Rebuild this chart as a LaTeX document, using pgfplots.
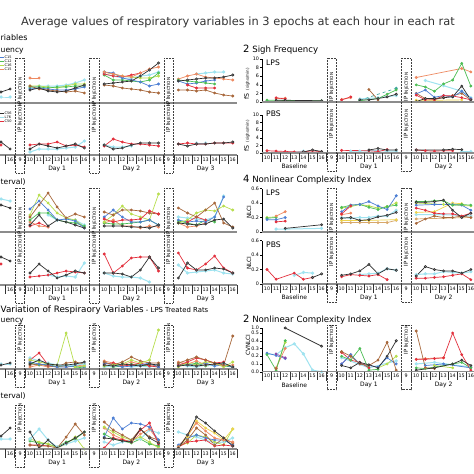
\documentclass[border=0pt]{standalone}
\usepackage{pgfplots}
\pgfplotsset{compat=1.18}
\usepackage{fontspec}
\setmainfont{DejaVu Sans}

\definecolor{cBlk}{HTML}{2E2E2E}
\definecolor{cRed}{HTML}{E3303D}
\definecolor{cCya}{HTML}{9FE3F0}
\definecolor{cGrn}{HTML}{4DBE55}
\definecolor{cLim}{HTML}{B8DE4E}
\definecolor{cOra}{HTML}{EE8A62}
\definecolor{cBrn}{HTML}{A8683C}
\definecolor{cBlu}{HTML}{4D7FD4}
\definecolor{cYel}{HTML}{EDD34C}
\definecolor{cTan}{HTML}{D8A86A}
\definecolor{cPur}{HTML}{8B44A8}
\definecolor{cTea}{HTML}{3FA7A0}
\definecolor{axgray}{HTML}{8C8C8C}

\pgfplotsset{
  dd/.style={x filter/.expression={x-10+#1}},
  ser/.style={line width=0.7pt, mark=*, mark size=1.05pt, mark options={solid}},
  Blk/.style={ser, color=cBlk, mark options={solid, fill=white}},
  Red/.style={ser, color=cRed},
  Cya/.style={ser, color=cCya, line width=1pt},
  Grn/.style={ser, color=cGrn},
  Lim/.style={ser, color=cLim},
  Ora/.style={ser, color=cOra},
  Brn/.style={ser, color=cBrn},
  Blu/.style={ser, color=cBlu},
  Yel/.style={ser, color=cYel},
  Tan/.style={ser, color=cTan},
  Pur/.style={ser, color=cPur},
  Tea/.style={ser, color=cTea, dashed},
  lpanel/.style={scale only axis, hide axis, clip=false, anchor=south west,
    x=9.05pt, y=1pt, xmin=-3.315, xmax=22.9, ymin=0},
  rpanel/.style={scale only axis, clip=false, anchor=south west,
    x=9.1pt, xmin=-0.55, xmax=22.75, ymin=0,
    axis x line=none, axis y line=left,
    axis line style={-, black, line width=0.5pt},
    tick align=outside, major tick length=2pt,
    ytick style={black, line width=0.4pt},
    yticklabel style={font=\fontsize{4.8}{5}\selectfont, inner sep=0.8pt},
    /pgf/number format/assume math mode=true},
}

\tikzset{
  hr/.style={font=\fontsize{4.8}{5}\selectfont, inner sep=0pt},
  dl/.style={font=\fontsize{6}{6}\selectfont, inner sep=0pt},
  sep/.style={line width=0.45pt, black!80},
  injb/.style={densely dotted, line width=0.5pt, black!75},
  injt/.style={rotate=90, inner sep=0pt},
  axl/.style={line width=1.2pt, axgray},
  hd/.style={anchor=west, inner sep=0pt, font=\fontsize{8.6}{9}\selectfont},
  lh/.style={anchor=west, inner sep=0pt, font=\fontsize{7.6}{8}\selectfont},
}

\newcommand{\injtext}{{\fontsize{5.4}{5}\selectfont IP I}{\fontsize{4.2}{4}\selectfont NJECTION}}

% hour cells of one recording day: x0, unit, axis y, offset, day name
\newcommand{\hours}[5]{%
  \begin{scope}[shift={(#1pt,-#3pt)}, x=#2pt, y=-1pt]
    \foreach \h in {10,...,16} \node[hr] at (#4+\h-10,4.5) {\h};
    \foreach \s in {0.5,1.5,2.5,3.5,4.5,5.5} \draw[sep] (#4+\s,0) -- (#4+\s,8.5);
    \draw[sep] (#4-0.5,0) -- (#4-0.5,9);
    \draw[sep] (#4+6.5,0) -- (#4+6.5,9);
    \node[dl] at (#4+3,13.5) {#5};
  \end{scope}}

% last hour cell of the baseline day at the left edge: x0, unit, axis y
\newcommand{\hourtail}[3]{%
  \begin{scope}[shift={(#1pt,-#3pt)}, x=#2pt, y=-1pt]
    \node[hr] at (-8.2+6,4.5) {16};
    \draw[sep] (-8.2+5.5,0) -- (-8.2+5.5,8.5);
    \draw[sep] (-8.2+6.5,0) -- (-8.2+6.5,9);
  \end{scope}}

% injection column: x0, unit, centre, top, axis y, label positions
\newcommand{\inj}[6]{%
  \begin{scope}[shift={(#1pt,0pt)}, x=#2pt, y=-1pt]
    \draw[injb] (#3-0.5,#4) rectangle (#3+0.5,#5+18);
    \node[hr] at (#3,#5+4.5) {9};
    \foreach \ly in {#6} \node[injt] at (#3,\ly) {\injtext};
  \end{scope}}

\begin{document}
\begin{tikzpicture}
\useasboundingbox (0pt,0pt) rectangle (474pt,-474pt);
\clip (0pt,0pt) rectangle (474pt,-474pt);
\fill[white] (0pt,0pt) rectangle (474pt,-474pt);

\node[font=\fontsize{11.4}{13}\selectfont, black!80] at (238pt,-22pt)
  {Average values of respiratory variables in 3 epochs at each hour in each rat};

% ---------------- left column headings ----------------
\node[lh, font=\fontsize{8}{8}\selectfont] at (0.5pt,-38pt) {riables};
\node[lh] at (0.5pt,-51pt) {uency};
\node[lh] at (0.5pt,-182pt) {terval)};
\node[anchor=west, inner sep=0pt] at (0.5pt,-310pt)
  {{\fontsize{8.8}{9}\selectfont Variation of Respiraory Variables}{\fontsize{6.9}{7}\selectfont\ - LPS Treated Rats}};
\node[lh] at (0.5pt,-321pt) {uency};
\node[lh] at (0.5pt,-396pt) {terval)};

% cropped legends
\foreach \yy/\cc/\tt in {57/cBlu/C15, 61/cGrn/C12, 65/cLim/C16, 69/cOra/C15}
  {\draw[\cc, line width=0.7pt] (0pt,-\yy pt) -- (4pt,-\yy pt);
   \node[anchor=west, inner sep=0pt, font=\fontsize{3.5}{4}\selectfont] at (4.5pt,-\yy pt) {\tt};}
\foreach \yy/\cc/\tt in {113/cBlk/C56, 117/cCya/L76, 121/cRed/C50}
  {\draw[\cc, line width=0.7pt] (0pt,-\yy pt) -- (4pt,-\yy pt);
   \node[anchor=west, inner sep=0pt, font=\fontsize{3.5}{4}\selectfont] at (4.5pt,-\yy pt) {\tt};}

% ---------------- L1 frequency, LPS ----------------
\begin{axis}[lpanel, at={(0pt,-103pt)}, ymax=45]
\addplot[Blk, dd=-8.2] coordinates {(14,10)(15,11)(16,14)};
\addplot[Cya, dd=-8.2] coordinates {(14,6)(15,6)(16,6)};
\addplot[Ora, dd=0] coordinates {(10,25)(11,25)};
\addplot[Cya, dd=0] coordinates {(10,15)(11,17)(12,17)(13,17)(14,18)(15,20)(16,23)};
\addplot[Lim, dd=0] coordinates {(10,17)(11,17)(12,16)(13,15)(14,17)(15,19)(16,19)};
\addplot[Grn, dd=0] coordinates {(10,16)(11,16)(12,15)(13,16)(14,16)(15,17)(16,17)};
\addplot[Blu, dd=0] coordinates {(10,14)(11,15)(12,14)(13,13)(14,13)(15,14)(16,16)};
\addplot[Brn, dd=0] coordinates {(10,17)(11,14)(12,13)(13,12)(14,11)(15,12)(16,10)};
\addplot[Blk, dd=0] coordinates {(10,13)(11,15)(12,12)(13,11)(14,12)(15,15)(16,18)};
\addplot[Cya, dd=8.2] coordinates {(10,29)(11,27)(12,25)(13,25)(14,27)(15,28)(16,31)};
\addplot[Lim, dd=8.2] coordinates {(10,31)(11,29)(12,27)(13,26)(14,25)(15,25)(16,27)};
\addplot[Grn, dd=8.2] coordinates {(10,28)(11,23)(12,23)(13,22)(14,21)(15,23)(16,30)};
\addplot[Red, dd=8.2] coordinates {(10,29)(11,27)(12,26)(13,28)(14,30)};
\addplot[Blu, dd=8.2] coordinates {(10,31)(11,30)(12,25)(13,23)(14,21)(15,17)(16,19)};
\addplot[Ora, dd=8.2] coordinates {(10,31)(11,29)(12,27)(13,26)(14,30)(15,34)(16,36)};
\addplot[Brn, dd=8.2] coordinates {(10,18)(11,17)(12,15)(13,14)(14,13)(15,11)(16,10)};
\addplot[Blk, dd=8.2] coordinates {(10,19)(11,20)(12,21)(13,22)(14,27)(15,33)(16,40)};
\addplot[Cya, dd=16.4] coordinates {(12,29)(13,30)(14,31)(15,31)};
\addplot[Ora, dd=16.4] coordinates {(10,24)(11,27)(12,29)(13,26)(14,25)(15,24)(16,23)};
\addplot[Blu, dd=16.4] coordinates {(10,22)(11,19)(12,20)(13,22)(14,23)};
\addplot[Grn, dd=16.4] coordinates {(10,23)(11,22)(12,21)(13,20)(14,19)};
\addplot[Red, dd=16.4] coordinates {(11,18)(12,15)(13,15)(14,15)};
\addplot[Brn, dd=16.4] coordinates {(10,13)(11,13)(12,12)(13,13)(14,10)(15,8)(16,7)};
\addplot[Blk, dd=16.4] coordinates {(10,22)(11,23)(12,24)(13,25)(14,25)(15,26)(16,28)};
\end{axis}

% ---------------- L1 frequency, PBS ----------------
\begin{axis}[lpanel, at={(0pt,-155pt)}, ymax=50]
\addplot[Red, dd=-8.2] coordinates {(14,12)(15,10)};
\addplot[Blk, dd=-8.2] coordinates {(14,15)(15,13)(16,6)};
\addplot[Cya, dd=0] coordinates {(10,3)(11,6)(12,6)(13,6)(14,7)(15,8)(16,14)};
\addplot[Red, dd=0] coordinates {(10,10)(11,11)(12,11)(13,13)(14,9)(15,10)(16,8)};
\addplot[Blk, dd=0] coordinates {(10,6)(11,11)(12,9)(13,7)(14,9)(15,11)(16,7)};
\addplot[Cya, dd=8.2] coordinates {(10,10)(11,8)(12,8)(13,9)};
\addplot[Red, dd=8.2] coordinates {(10,9)(11,16)(12,13)(13,11)(14,11)(15,10)(16,9)};
\addplot[Blk, dd=8.2] coordinates {(10,10)(11,6)(12,7)(13,10)(14,12)(15,12)(16,12)};
\addplot[Cya, dd=16.4] coordinates {(12,12)(13,12)};
\addplot[Red, dd=16.4] coordinates {(10,11)(11,12)(12,11)(13,11)(14,12)(15,12)(16,12)};
\addplot[Blk, dd=16.4] coordinates {(10,11)(11,9)(12,11)(13,11)(14,12)(15,12)(16,13)};
\end{axis}

\draw[axl] (0pt,-103pt) -- (237pt,-103pt);
\draw[axl] (0pt,-155pt) -- (237pt,-155pt);
\hourtail{30}{9.05}{155}
\hours{30}{9.05}{155}{0}{Day 1}
\hours{30}{9.05}{155}{8.2}{Day 2}
\hours{30}{9.05}{155}{16.4}{Day 3}
\inj{30}{9.05}{-1.1}{58}{155}{92,118}
\inj{30}{9.05}{7.1}{58}{155}{92,118}
\inj{30}{9.05}{15.3}{58}{155}{92,118}

% ---------------- L2 interval, LPS ----------------
\begin{axis}[lpanel, at={(0pt,-232pt)}, ymax=44]
\addplot[Cya, dd=-8.2] coordinates {(14,34)(15,33)(16,31)};
\addplot[Blk, dd=-8.2] coordinates {(14,29)(15,27)(16,24)};
\addplot[Cya, dd=0] coordinates {(12,17)(13,12)(14,13)(15,12)(16,7)};
\addplot[Red, dd=0] coordinates {(10,6)(11,9)(12,5)};
\addplot[Ora, dd=0] coordinates {(10,10)(11,6)(12,5)};
\addplot[Lim, dd=0] coordinates {(10,17)(11,37)(12,29)(13,19)(14,14)(15,12)(16,5)};
\addplot[Grn, dd=0] coordinates {(10,12)(11,19)(12,19)(13,12)(14,10)(15,9)(16,6)};
\addplot[Blu, dd=0] coordinates {(10,23)(11,31)(12,22)(13,12)(14,13)(15,11)(16,4)};
\addplot[Brn, dd=0] coordinates {(10,15)(11,27)(12,39)(13,25)(14,14)(15,18)(16,15)};
\addplot[Blk, dd=0] coordinates {(10,7)(11,17)(12,6)(13,12)(14,10)(15,7)(16,4)};
\addplot[Ora, dd=8.2] coordinates {(10,9)(11,12)(12,6)(13,6)(14,4)(15,6)(16,5)};
\addplot[Grn, dd=8.2] coordinates {(10,9)(11,8)(12,8)(13,9)(14,10)(15,12)(16,7)};
\addplot[Lim, dd=8.2] coordinates {(10,10)(11,17)(12,26)(13,18)(14,15)(15,12)(16,38)};
\addplot[Blu, dd=8.2] coordinates {(10,15)(11,22)(12,15)(13,10)(14,10)(15,12)(16,7)};
\addplot[Brn, dd=8.2] coordinates {(10,20)(11,17)(12,22)(13,22)(14,21)(15,19)(16,18)};
\addplot[Red, dd=8.2] coordinates {(10,13)(11,10)(12,12)(13,12)(14,13)(15,21)(16,18)};
\addplot[Blk, dd=8.2] coordinates {(10,6)(11,6)(12,6)(13,5)(14,5)(15,4)(16,7)};
\addplot[Ora, dd=16.4] coordinates {(10,9)(11,5)(12,6)(13,9)};
\addplot[Grn, dd=16.4] coordinates {(10,11)(11,9)(12,7)(13,12)(14,10)};
\addplot[Cya, dd=16.4] coordinates {(10,15)(11,14)(12,13)(13,12)(14,15)(15,36)};
\addplot[Blu, dd=16.4] coordinates {(10,12)(11,10)(12,11)(13,10)(14,15)(15,35)};
\addplot[Lim, dd=16.4] coordinates {(10,9)(11,12)(12,19)(13,22)(14,21)(15,26)(16,22)};
\addplot[Red, dd=16.4] coordinates {(11,10)(12,15)(13,12)};
\addplot[Brn, dd=16.4] coordinates {(10,24)(11,19)(12,15)(13,22)(14,29)(15,9)(16,5)};
\addplot[Blk, dd=16.4] coordinates {(10,9)(11,8)(12,7)(13,8)(14,12)(15,13)(16,4)};
\end{axis}

% ---------------- L2 interval, PBS ----------------
\begin{axis}[lpanel, at={(0pt,-285pt)}, ymax=49]
\addplot[Red, dd=-8.2] coordinates {(14,23)(15,21)};
\addplot[Blk, dd=-8.2] coordinates {(14,30)(15,28)(16,24)};
\addplot[Cya, dd=0] coordinates {(12,10)(13,8)(14,9)(15,8)(16,22)};
\addplot[Red, dd=0] coordinates {(10,8)(11,9)(12,10)(13,12)(14,14)(15,13)(16,12)};
\addplot[Blk, dd=0] coordinates {(10,12)(11,21)(12,14)(13,7)(14,10)(15,14)(16,12)};
\addplot[Cya, dd=8.2] coordinates {(10,12)(11,9)(12,8)(13,8)(14,7)(15,3)};
\addplot[Red, dd=8.2] coordinates {(10,31)(11,12)(12,19)(13,27)(14,28)(15,28)(16,14)};
\addplot[Blk, dd=8.2] coordinates {(10,12)(11,12)(12,11)(13,8)(14,15)(15,28)(16,17)};
\addplot[Cya, dd=16.4] coordinates {(10,20)(11,12)(12,13)(13,14)(14,15)(15,12)(16,11)};
\addplot[Red, dd=16.4] coordinates {(10,32)(11,17)(12,15)(13,21)(14,29)(15,17)(16,12)};
\addplot[Blk, dd=16.4] coordinates {(10,7)(11,22)(12,15)(13,15)(14,17)(15,16)(16,12)};
\end{axis}

\draw[axl] (0pt,-232pt) -- (237pt,-232pt);
\draw[axl] (0pt,-285pt) -- (237pt,-285pt);
\hourtail{30}{9.05}{285}
\hours{30}{9.05}{285}{0}{Day 1}
\hours{30}{9.05}{285}{8.2}{Day 2}
\hours{30}{9.05}{285}{16.4}{Day 3}
\inj{30}{9.05}{-1.1}{188}{285}{222,250}
\inj{30}{9.05}{7.1}{188}{285}{222,250}
\inj{30}{9.05}{15.3}{188}{285}{222,250}

% ---------------- L3 variation of frequency ----------------
\begin{axis}[lpanel, at={(0pt,-369pt)}, ymax=44]
\addplot[Cya, dd=-8.2] coordinates {(14,5)(15,5)(16,5)};
\addplot[Blk, dd=-8.2] coordinates {(14,3)(15,4)(16,6)};
\addplot[Ora, dd=0] coordinates {(10,2)(11,4)(12,2)(13,3)(14,2)(15,3)(16,4)};
\addplot[Grn, dd=0] coordinates {(10,6)(11,4)(12,5)(13,2)(14,4)(15,2)(16,1)};
\addplot[Brn, dd=0] coordinates {(10,4)(11,5)(12,3)(13,2)(14,6)(15,7)(16,5)};
\addplot[Cya, dd=0] coordinates {(10,11)(11,8)(12,6)(13,4)(14,3)(15,4)(16,5)};
\addplot[Blu, dd=0] coordinates {(10,7)(11,5)(12,4)(13,2)(14,2)(15,3)(16,2)};
\addplot[Red, dd=0] coordinates {(10,9)(11,16)(12,4)};
\addplot[Lim, dd=0] coordinates {(10,9)(11,7)(12,5)(13,4)(14,36)(15,2)(16,3)};
\addplot[Blk, dd=0] coordinates {(10,5)(11,9)(12,5)(13,4)(14,4)(15,5)(16,7)};
\addplot[Grn, dd=8.2] coordinates {(10,3)(11,2)(12,3)(13,5)(14,4)(15,3)(16,2)};
\addplot[Cya, dd=8.2] coordinates {(10,2)(11,3)(12,4)(13,2)(14,3)(15,2)(16,5)};
\addplot[Ora, dd=8.2] coordinates {(10,8)(11,6)(12,4)(13,7)(14,5)(15,4)(16,3)};
\addplot[Red, dd=8.2] coordinates {(10,5)(11,6)(12,3)(13,4)(14,6)(15,3)(16,2)};
\addplot[Blu, dd=8.2] coordinates {(10,6)(11,4)(12,2)(13,3)(14,4)(15,6)(16,2)};
\addplot[Brn, dd=8.2] coordinates {(10,7)(11,4)(12,7)(13,12)(14,8)(15,6)(16,6)};
\addplot[Lim, dd=8.2] coordinates {(10,3)(11,4)(12,5)(13,9)(14,6)(15,9)(16,39)};
\addplot[Blk, dd=8.2] coordinates {(10,4)(11,3)(12,5)(13,4)(14,3)(15,5)(16,4)};
\addplot[Grn, dd=16.4] coordinates {(10,5)(11,4)(12,6)(13,3)(14,4)(15,3)(16,2)};
\addplot[Cya, dd=16.4] coordinates {(10,4)(11,3)(12,2)(13,4)(14,3)(15,5)(16,3)};
\addplot[Blu, dd=16.4] coordinates {(10,3)(11,5)(12,4)(13,6)(14,3)(15,4)(16,2)};
\addplot[Ora, dd=16.4] coordinates {(10,7)(11,5)(12,8)(13,4)(14,5)(15,3)(16,4)};
\addplot[Lim, dd=16.4] coordinates {(10,2)(11,6)(12,4)(13,7)(14,6)(15,2)(16,7)};
\addplot[Red, dd=16.4] coordinates {(10,4)(11,7)(12,11)(13,9)(14,6)(15,7)};
\addplot[Brn, dd=16.4] coordinates {(10,6)(11,9)(12,12)(13,9)(14,6)(15,4)(16,33)};
\addplot[Blk, dd=16.4] coordinates {(10,3)(11,4)(12,3)(13,4)(14,5)(15,6)(16,2)};
\end{axis}

\draw[axl] (0pt,-369pt) -- (237pt,-369pt);
\hourtail{30}{9.05}{369}
\hours{30}{9.05}{369}{0}{Day 1}
\hours{30}{9.05}{369}{8.2}{Day 2}
\hours{30}{9.05}{369}{16.4}{Day 3}
\inj{30}{9.05}{-1.1}{325}{369}{338}
\inj{30}{9.05}{7.1}{325}{369}{338}
\inj{30}{9.05}{15.3}{325}{369}{338}

% ---------------- L4 variation of interval ----------------
\begin{axis}[lpanel, at={(0pt,-449pt)}, ymax=44]
\addplot[Cya, dd=-8.2] coordinates {(14,9)(15,10)(16,10)};
\addplot[Blk, dd=-8.2] coordinates {(14,10)(15,13)(16,21)};
\addplot[Red, dd=0] coordinates {(10,4)(11,4)(12,3)};
\addplot[Grn, dd=0] coordinates {(10,8)(11,6)(12,5)(13,2)(14,7)(15,10)(16,17)};
\addplot[Lim, dd=0] coordinates {(10,10)(11,7)(12,5)(13,1)(14,5)(15,12)(16,0)};
\addplot[Cya, dd=0] coordinates {(10,10)(11,20)(12,9)(13,2)(14,5)(15,8)(16,11)};
\addplot[Brn, dd=0] coordinates {(10,4)(11,3)(12,3)(13,1)(14,12)(15,25)(16,14)};
\addplot[Blk, dd=0] coordinates {(10,17)(11,1)(12,9)(13,1)(14,6)(15,11)(16,17)};
\addplot[Grn, dd=8.2] coordinates {(10,15)(11,10)(12,8)(13,6)(14,10)(15,5)(16,3)};
\addplot[Cya, dd=8.2] coordinates {(10,7)(11,4)(12,7)(13,9)(14,10)(15,19)(16,16)};
\addplot[Ora, dd=8.2] coordinates {(10,21)(11,14)(12,10)(13,7)(14,15)(15,20)(16,8)};
\addplot[Lim, dd=8.2] coordinates {(10,22)(11,17)(12,12)(13,9)(14,12)(15,7)(16,1)};
\addplot[Brn, dd=8.2] coordinates {(10,27)(11,19)(12,14)(13,9)(14,20)(15,12)(16,9)};
\addplot[Blu, dd=8.2] coordinates {(10,12)(11,31)(12,20)(13,26)(14,25)(15,22)(16,9)};
\addplot[Red, dd=8.2] coordinates {(10,1)(11,11)(12,9)(13,7)(14,19)(15,26)(16,5)};
\addplot[Blk, dd=8.2] coordinates {(10,11)(11,10)(12,8)(13,7)(14,20)(15,11)(16,6)};
\addplot[Cya, dd=16.4] coordinates {(10,17)(11,14)(12,12)(13,9)(14,6)(15,7)(16,11)};
\addplot[Lim, dd=16.4] coordinates {(10,3)(11,6)(12,14)(13,12)(14,7)(15,4)(16,20)};
\addplot[Blu, dd=16.4] coordinates {(10,4)(11,11)(12,14)(13,11)(14,9)(15,9)(16,4)};
\addplot[Red, dd=16.4] coordinates {(10,2)(11,7)(12,8)(13,9)(14,3)(15,4)(16,3)};
\addplot[Brn, dd=16.4] coordinates {(10,2)(11,9)(12,21)(13,14)(14,4)(15,11)(16,6)};
\addplot[Yel, dd=16.4] coordinates {(10,2)(11,12)(12,28)(13,21)(14,16)(15,9)(16,20)};
\addplot[Ora, dd=16.4] coordinates {(10,2)(11,14)(12,26)(13,18)(14,11)(15,9)(16,7)};
\addplot[Blk, dd=16.4] coordinates {(10,1)(11,14)(12,32)(13,26)(14,18)(15,11)(16,3)};
\end{axis}

\draw[axl] (0pt,-449pt) -- (237pt,-449pt);
\hourtail{30}{9.05}{449}
\hours{30}{9.05}{449}{0}{Day 1}
\hours{30}{9.05}{449}{8.2}{Day 2}
\hours{30}{9.05}{449}{16.4}{Day 3}
\inj{30}{9.05}{-1.1}{405}{449}{418}
\inj{30}{9.05}{7.1}{405}{449}{418}
\inj{30}{9.05}{15.3}{405}{449}{418}

% ================= right column =================
\node[hd] at (243pt,-50pt) {{\fontsize{10}{10}\selectfont 2} Sigh Frequency};
\node[hd] at (243pt,-180pt) {{\fontsize{10}{10}\selectfont 4} Nonlinear Complexity Index};
\node[hd] at (243pt,-320pt) {{\fontsize{10}{10}\selectfont 2} Nonlinear Complexity Index};

\node[hd, font=\fontsize{7.6}{8}\selectfont] at (266pt,-63pt) {LPS};
\node[hd, font=\fontsize{7.6}{8}\selectfont] at (266pt,-114pt) {PBS};
\node[hd, font=\fontsize{7.6}{8}\selectfont] at (266pt,-193pt) {LPS};
\node[hd, font=\fontsize{7.6}{8}\selectfont] at (266pt,-245pt) {PBS};

\node[rotate=90, inner sep=0pt] at (247pt,-84pt) {{\fontsize{6.2}{6}\selectfont fS} {\fontsize{4}{4}\selectfont(sighs/min)}};
\node[rotate=90, inner sep=0pt] at (247pt,-136pt) {{\fontsize{6.2}{6}\selectfont fS} {\fontsize{4}{4}\selectfont(sighs/min)}};
\node[rotate=90, inner sep=0pt, font=\fontsize{5.8}{6}\selectfont] at (249pt,-212pt) {NLCI};
\node[rotate=90, inner sep=0pt, font=\fontsize{5.8}{6}\selectfont] at (249pt,-263pt) {NLCI};
\node[rotate=90, inner sep=0pt, font=\fontsize{5.8}{6}\selectfont] at (248pt,-345pt) {CVNLCI};

% R1 sigh frequency, LPS
\begin{axis}[rpanel, at={(262pt,-102pt)}, y=4.3pt, ymax=10, ytick={0,2,...,10}]
\addplot[Tea, dd=0] coordinates {(10,0.2)(16,0.2)};
\addplot[Grn, dd=0] coordinates {(10,0.4)(16,0.3)};
\addplot[Ora, dd=0] coordinates {(11,0.8)(12,0.9)};
\addplot[Red, dd=0] coordinates {(11,1.0)(12,0.7)};
\addplot[Blk, dd=0] coordinates {(11,0.4)(12,0.4)(16,0.3)};
\addplot[Cya, dd=8.2] coordinates {(12,0.7)(14,1.0)(16,1.5)};
\addplot[Tea, dd=8.2] coordinates {(12,0.4)(16,3.2)};
\addplot[Grn, dd=8.2] coordinates {(12,0.3)(14,0.8)(15,1.8)(16,2.8)};
\addplot[Ora, dd=8.2] coordinates {(10,0.6)(11,1.0)};
\addplot[Red, dd=8.2] coordinates {(10,0.5)(11,1.2)};
\addplot[Brn, dd=8.2] coordinates {(13,2.9)(14,0.5)};
\addplot[Blk, dd=8.2] coordinates {(12,0.5)(13,0.5)(14,0.8)(15,1.2)(16,1.8)};
\addplot[Yel, dd=16.4] coordinates {(10,0.4)(12,0.4)(15,0.5)};
\addplot[Cya, dd=16.4] coordinates {(11,5.0)(13,3.8)(15,2.5)(16,1.0)};
\addplot[Ora, dd=16.4] coordinates {(10,5.7)(15,7.8)(16,7.0)};
\addplot[Brn, dd=16.4] coordinates {(10,2.0)(11,0.8)(12,0.6)(13,1.0)(14,1.5)(15,2.0)(16,0.5)};
\addplot[Blu, dd=16.4] coordinates {(10,1.9)(11,2.8)(12,1.1)(13,1.5)(14,1.2)(15,2.5)(16,0.8)};
\addplot[Red, dd=16.4] coordinates {(10,1.6)(11,0.5)(12,0.5)(13,1.5)(14,1.4)(15,1.0)(16,0.5)};
\addplot[Grn, dd=16.4] coordinates {(10,4.0)(11,3.5)(12,2.5)(13,4.2)(14,5.1)(15,9.0)(16,3.7)};
\addplot[Blk, dd=16.4] coordinates {(10,0.1)(11,0.8)(12,0.8)(13,1.0)(14,1.2)(15,3.7)(16,0.5)};
\end{axis}

% R1 sigh frequency, PBS
\begin{axis}[rpanel, at={(262pt,-153pt)}, y=3.8pt, ymax=10, ytick={0,2,...,10}]
\addplot[Cya, dd=0] coordinates {(12,0.3)(13,0.2)(14,0.5)};
\addplot[Red, dd=0] coordinates {(10,0.6)(11,0.5)(12,0.4)(13,0.3)(14,0.3)(15,0.6)(16,0.3)};
\addplot[Blk, dd=0] coordinates {(14,0.3)(15,0.8)(16,0.4)};
\addplot[Cya, dd=8.2] coordinates {(11,0.5)(12,0.5)(13,0.6)(14,0.6)(15,0.5)(16,0.5)};
\addplot[Red, dd=8.2] coordinates {(10,0.7)(13,0.6)(14,0.4)(15,0.9)};
\addplot[Blk, dd=8.2] coordinates {(13,0.8)(14,1.2)(15,0.8)(16,0.8)};
\addplot[Cya, dd=16.4] coordinates {(15,0.4)(16,0.4)};
\addplot[Red, dd=16.4] coordinates {(10,0.8)(11,0.6)(12,0.5)(13,0.6)(14,0.6)};
\addplot[Blk, dd=16.4] coordinates {(10,0.8)(13,0.8)(14,1.0)(15,0.9)};
\end{axis}

\draw[axl] (262pt,-102pt) -- (474pt,-102pt);
\draw[axl] (262pt,-153pt) -- (474pt,-153pt);
\hours{267}{9.1}{153}{0}{Baseline}
\hours{267}{9.1}{153}{8.2}{Day 1}
\hours{267}{9.1}{153}{16.4}{Day 2}
\inj{267}{9.1}{7.1}{58}{153}{87,124}
\inj{267}{9.1}{15.3}{58}{153}{87,124}

% R2 nonlinear complexity index, LPS
\begin{axis}[rpanel, at={(262pt,-232pt)}, y=72.5pt, ymax=0.6, ytick={0,0.2,0.4,0.6}]
\addplot[Cya, dd=0] coordinates {(11,0.04)(12,0.04)(16,0.05)};
\addplot[Lim, dd=0] coordinates {(10,0.2)(11,0.21)};
\addplot[Grn, dd=0] coordinates {(10,0.19)(11,0.2)};
\addplot[Ora, dd=0] coordinates {(11,0.22)(12,0.28)};
\addplot[Blu, dd=0] coordinates {(10,0.17)(11,0.17)(12,0.2)};
\addplot[Red, dd=0] coordinates {(11,0.14)(12,0.15)};
\addplot[Blk, dd=0] coordinates {(12,0.05)(16,0.1)};
\addplot[Tan, dd=8.2] coordinates {(10,0.13)(11,0.13)(12,0.13)(13,0.13)(14,0.13)(15,0.13)(16,0.16)};
\addplot[Yel, dd=8.2] coordinates {(10,0.16)(13,0.16)(16,0.17)};
\addplot[Cya, dd=8.2] coordinates {(10,0.2)(11,0.19)(12,0.2)(13,0.2)(14,0.22)(15,0.22)(16,0.3)};
\addplot[Ora, dd=8.2] coordinates {(10,0.24)(11,0.26)};
\addplot[Lim, dd=8.2] coordinates {(10,0.33)(11,0.35)(12,0.38)(13,0.36)(14,0.33)(15,0.35)(16,0.4)};
\addplot[Grn, dd=8.2] coordinates {(10,0.34)(11,0.37)(12,0.38)(13,0.34)(14,0.31)(15,0.35)(16,0.37)};
\addplot[Blu, dd=8.2] coordinates {(10,0.28)(11,0.37)(12,0.38)(13,0.42)(14,0.36)(15,0.31)(16,0.5)};
\addplot[Red, dd=8.2] coordinates {(10,0.25)(11,0.36)};
\addplot[Blk, dd=8.2] coordinates {(10,0.19)(11,0.2)(12,0.16)(13,0.17)(14,0.21)(15,0.23)(16,0.27)};
\addplot[Tan, dd=16.4] coordinates {(10,0.18)(16,0.2)};
\addplot[Cya, dd=16.4] coordinates {(10,0.24)(13,0.24)(16,0.22)};
\addplot[Brn, dd=16.4] coordinates {(10,0.12)(11,0.18)(12,0.22)(13,0.2)(14,0.2)(15,0.22)(16,0.2)};
\addplot[Yel, dd=16.4] coordinates {(10,0.27)(12,0.28)(14,0.4)(15,0.39)};
\addplot[Lim, dd=16.4] coordinates {(10,0.4)(13,0.38)(16,0.36)};
\addplot[Blu, dd=16.4] coordinates {(10,0.37)(12,0.38)(14,0.38)(15,0.37)(16,0.3)};
\addplot[Red, dd=16.4] coordinates {(10,0.33)(11,0.3)(12,0.26)(13,0.25)(14,0.25)(15,0.22)(16,0.26)};
\addplot[Grn, dd=16.4] coordinates {(10,0.42)(11,0.42)(12,0.43)(13,0.43)(14,0.37)(15,0.38)(16,0.37)};
\addplot[Blk, dd=16.4] coordinates {(10,0.41)(11,0.41)(12,0.42)(13,0.44)(14,0.3)(15,0.2)(16,0.26)};
\end{axis}

% R2 nonlinear complexity index, PBS
\begin{axis}[rpanel, at={(262pt,-284pt)}, y=72.5pt, ymax=0.6, ytick={0,0.2,0.4,0.6}]
\addplot[Cya, dd=0] coordinates {(13,0.12)(14,0.16)(15,0.15)};
\addplot[Red, dd=0] coordinates {(10,0.2)(11,0.065)(13,0.15)(14,0.065)(15,0.09)};
\addplot[Blk, dd=0] coordinates {(15,0.09)(16,0.14)};
\addplot[Cya, dd=8.2] coordinates {(12,0.13)(13,0.14)(14,0.15)(15,0.21)(16,0.19)};
\addplot[Red, dd=8.2] coordinates {(10,0.1)(11,0.13)(12,0.12)(13,0.11)(14,0.13)(15,0.06)};
\addplot[Blk, dd=8.2] coordinates {(10,0.12)(11,0.14)(12,0.18)(13,0.27)(14,0.14)(15,0.21)(16,0.19)};
\addplot[Cya, dd=16.4] coordinates {(10,0.13)(11,0.14)(12,0.14)(13,0.17)(14,0.16)(15,0.15)(16,0.17)};
\addplot[Red, dd=16.4] coordinates {(10,0.08)(11,0.08)(12,0.09)(13,0.1)(14,0.12)(15,0.14)(16,0.06)};
\addplot[Blk, dd=16.4] coordinates {(10,0.11)(11,0.24)(12,0.2)(13,0.18)(14,0.18)(15,0.15)(16,0.2)};
\end{axis}

\draw[axl] (262pt,-232pt) -- (474pt,-232pt);
\draw[axl] (262pt,-284pt) -- (474pt,-284pt);
\hours{267}{9.1}{284}{0}{Baseline}
\hours{267}{9.1}{284}{8.2}{Day 1}
\hours{267}{9.1}{284}{16.4}{Day 2}
\inj{267}{9.1}{7.1}{188}{284}{218,252}
\inj{267}{9.1}{15.3}{188}{284}{218,252}

% R3 variation of the nonlinear complexity index (axis broken above 0.5)
\begin{axis}[rpanel, at={(262pt,-371.7pt)}, y=77.4pt,
  y coord trafo/.code={\pgfmathparse{(#1>0.5)*(0.5+(#1-0.5)*0.13)+(#1<=0.5)*#1}},
  ymax=1.0, ytick={0,0.1,0.2,0.3,0.4,0.5,1.0},
  yticklabels={0.0,0.1,0.2,0.3,0.4,0.5,1.0}]
\addplot[Cya, dd=0] coordinates {(10,0.23)(11,0.22)(12,0.31)(13,0.36)(14,0.23)(15,0.02)(16,0.0)};
\addplot[Blu, dd=0] coordinates {(10,0.24)(11,0.21)(12,0.17)};
\addplot[Pur, dd=0] coordinates {(11,0.23)(12,0.18)};
\addplot[Lim, dd=0] coordinates {(11,0.04)(12,0.38)};
\addplot[Ora, dd=0] coordinates {(11,0.05)(12,0.3)};
\addplot[Grn, dd=0] coordinates {(10,0.22)(11,0.02)(12,0.4)};
\addplot[Brn, dd=0] coordinates {(11,0.04)};
\addplot[Blk, dd=0] coordinates {(12,1.0)(16,0.33)};
\addplot[Cya, dd=8.2] coordinates {(10,0.18)(13,0.05)(16,0.14)};
\addplot[Lim, dd=8.2] coordinates {(14,0.05)(15,0.1)(16,0.2)};
\addplot[Pur, dd=8.2] coordinates {(10,0.1)(11,0.22)};
\addplot[Red, dd=8.2] coordinates {(10,0.25)(11,0.15)(12,0.12)(13,0.05)};
\addplot[Blu, dd=8.2] coordinates {(10,0.1)(11,0.22)(12,0.1)(13,0.08)(14,0.06)(15,0.18)(16,0.1)};
\addplot[Grn, dd=8.2] coordinates {(10,0.2)(11,0.15)(12,0.3)(13,0.02)(14,0.03)};
\addplot[Brn, dd=8.2] coordinates {(10,0.26)(11,0.2)(12,0.1)(13,0.08)(14,0.15)(15,0.38)(16,0.02)};
\addplot[Blk, dd=8.2] coordinates {(10,0.08)(11,0.05)(12,0.12)(13,0.09)(14,0.05)(15,0.2)(16,0.4)};
\addplot[Cya, dd=16.4] coordinates {(10,0.1)(12,0.12)(16,0.06)};
\addplot[Blu, dd=16.4] coordinates {(11,0.08)(13,0.1)(16,0.05)};
\addplot[Lim, dd=16.4] coordinates {(12,0.08)(14,0.05)};
\addplot[Grn, dd=16.4] coordinates {(10,0.05)(11,0.04)(14,0.1)(15,0.12)(16,0.05)};
\addplot[Ora, dd=16.4] coordinates {(10,0.16)(11,0.17)(13,0.18)};
\addplot[Brn, dd=16.4] coordinates {(10,0.7)(11,0.05)(12,0.04)};
\addplot[Red, dd=16.4] coordinates {(10,0.16)(11,0.16)(12,0.17)(13,0.18)(14,0.5)(15,0.22)(16,0.02)};
\addplot[Blk, dd=16.4] coordinates {(10,0.02)(12,0.05)(14,0.1)(15,0.15)(16,0.08)};
\end{axis}

\draw[axl] (262pt,-371.7pt) -- (474pt,-371.7pt);
\hours{267}{9.1}{371.7}{0}{Baseline}
\hours{267}{9.1}{371.7}{8.2}{Day 1}
\hours{267}{9.1}{371.7}{16.4}{Day 2}
\inj{267}{9.1}{7.1}{325}{371.7}{340}
\inj{267}{9.1}{15.3}{325}{371.7}{340}

\end{tikzpicture}
\end{document}
